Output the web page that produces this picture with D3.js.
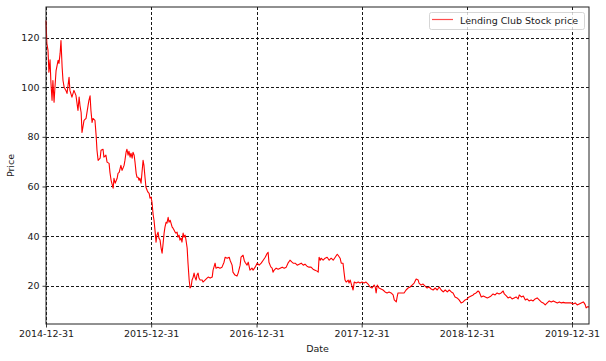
<!DOCTYPE html>
<html><head><meta charset="utf-8">
<script src="https://cdn.jsdelivr.net/npm/d3@7"></script>
<style>
body{margin:0;background:#fff}
svg{display:block}
text{font-family:"DejaVu Sans",sans-serif;fill:#1a1a1a}
</style>
</head><body>
<svg id="chart" width="606" height="361"></svg>
<script>
const seriesName = "Lending Club Stock price";
const dates = [
"2014-12-31","2015-01-03","2015-01-07","2015-01-10","2015-01-14","2015-01-17","2015-01-21","2015-01-24","2015-01-28","2015-01-31",
"2015-02-04","2015-02-11","2015-02-14","2015-02-18","2015-02-21","2015-02-25","2015-02-28","2015-03-04","2015-03-10","2015-03-14",
"2015-03-21","2015-03-24","2015-03-31","2015-04-07","2015-04-14","2015-04-21","2015-04-25","2015-04-28","2015-05-02","2015-05-05",
"2015-05-12","2015-05-19","2015-05-26","2015-05-29","2015-06-02","2015-06-05","2015-06-09","2015-06-12","2015-06-19","2015-06-23",
"2015-06-26","2015-06-30","2015-07-07","2015-07-10","2015-07-17","2015-07-20","2015-07-27","2015-07-31","2015-08-07","2015-08-10",
"2015-08-14","2015-08-21","2015-08-24","2015-08-28","2015-09-04","2015-09-07","2015-09-11","2015-09-17","2015-09-21","2015-09-24",
"2015-09-28","2015-10-01","2015-10-05","2015-10-08","2015-10-12","2015-10-15","2015-10-19","2015-10-22","2015-10-26","2015-10-29",
"2015-11-02","2015-11-05","2015-11-09","2015-11-12","2015-11-16","2015-11-19","2015-11-22","2015-11-26","2015-11-29","2015-12-03",
"2015-12-06","2015-12-10","2015-12-13","2015-12-17","2015-12-20","2015-12-24","2015-12-27","2015-12-31",
"2016-01-03","2016-01-07","2016-01-10","2016-01-14","2016-01-17","2016-01-20","2016-01-24","2016-01-27","2016-01-31","2016-02-03",
"2016-02-07","2016-02-10","2016-02-14","2016-02-17","2016-02-21","2016-02-24","2016-02-28","2016-03-02","2016-03-06","2016-03-09",
"2016-03-13","2016-03-16","2016-03-20","2016-03-23","2016-03-26","2016-03-30","2016-04-02","2016-04-06","2016-04-09","2016-04-13",
"2016-04-16","2016-04-20","2016-04-23","2016-04-27","2016-04-30","2016-05-04","2016-05-07","2016-05-11","2016-05-14","2016-05-18",
"2016-05-21","2016-05-25","2016-05-28","2016-05-31","2016-06-04","2016-06-07","2016-06-11","2016-06-14","2016-06-18","2016-06-25",
"2016-06-28","2016-07-05","2016-07-12","2016-07-16","2016-07-23","2016-07-30","2016-08-02","2016-08-09","2016-08-12","2016-08-19",
"2016-08-26","2016-09-02","2016-09-09","2016-09-13","2016-09-20","2016-09-27","2016-09-30","2016-10-07","2016-10-10","2016-10-17",
"2016-10-24","2016-10-28","2016-11-04","2016-11-07","2016-11-14","2016-11-18","2016-11-21","2016-11-28","2016-12-02","2016-12-08",
"2016-12-15","2016-12-19","2016-12-26",
"2017-01-02","2017-01-09","2017-01-16","2017-01-23","2017-01-30","2017-02-06","2017-02-09","2017-02-12","2017-02-16","2017-02-19",
"2017-02-23","2017-02-26","2017-03-02","2017-03-09","2017-03-16","2017-03-23","2017-03-30","2017-04-06","2017-04-13","2017-04-19",
"2017-04-26","2017-05-03","2017-05-07","2017-05-14","2017-05-21","2017-05-28","2017-06-04","2017-06-11","2017-06-17","2017-06-24",
"2017-07-01","2017-07-08","2017-07-15","2017-07-22","2017-07-29","2017-08-02","2017-08-05","2017-08-09","2017-08-12","2017-08-19",
"2017-08-26","2017-09-02","2017-09-09","2017-09-16","2017-09-23","2017-09-30","2017-10-07","2017-10-10","2017-10-17","2017-10-21",
"2017-10-27","2017-10-31","2017-11-03","2017-11-07","2017-11-14","2017-11-17","2017-11-21","2017-11-24","2017-12-01","2017-12-05",
"2017-12-12","2017-12-19","2017-12-25",
"2018-01-01","2018-01-08","2018-01-15","2018-01-22","2018-01-29","2018-02-05","2018-02-12","2018-02-16","2018-02-19","2018-02-23",
"2018-03-01","2018-03-08","2018-03-15","2018-03-22","2018-03-29","2018-04-05","2018-04-12","2018-04-19","2018-04-23","2018-04-30",
"2018-05-03","2018-05-06","2018-05-13","2018-05-20","2018-05-27","2018-06-03","2018-06-10","2018-06-17","2018-06-24","2018-07-01",
"2018-07-08","2018-07-15","2018-07-18","2018-07-25","2018-08-01","2018-08-08","2018-08-15","2018-08-22","2018-08-29","2018-09-05",
"2018-09-12","2018-09-19","2018-09-26","2018-10-03","2018-10-10","2018-10-17","2018-10-24","2018-10-31","2018-11-07","2018-11-13",
"2018-11-20","2018-11-27","2018-12-04","2018-12-11","2018-12-18","2018-12-25",
"2019-01-01","2019-01-08","2019-01-15","2019-01-22","2019-01-25","2019-02-01","2019-02-08","2019-02-12","2019-02-19","2019-02-26",
"2019-03-05","2019-03-12","2019-03-19","2019-03-25","2019-04-01","2019-04-08","2019-04-15","2019-04-22","2019-04-29","2019-05-06",
"2019-05-10","2019-05-17","2019-05-23","2019-05-30","2019-06-06","2019-06-13","2019-06-20","2019-06-27","2019-07-01","2019-07-08",
"2019-07-15","2019-07-22","2019-07-28","2019-08-04","2019-08-11","2019-08-18","2019-08-25","2019-09-01","2019-09-08","2019-09-15",
"2019-09-22","2019-09-29","2019-10-06","2019-10-13","2019-10-20","2019-10-27","2019-11-03","2019-11-10","2019-11-17","2019-11-24",
"2019-12-01","2019-12-07","2019-12-14","2019-12-21","2019-12-28",
"2020-01-04","2020-01-11","2020-01-18","2020-01-25","2020-02-01","2020-02-08","2020-02-11","2020-02-15","2020-02-18","2020-02-22",
"2020-02-28"
];
const prices = [
126.9,117.6,114.8,106.0,111.0,102.0,94.7,102.7,93.9,99.9,
106.7,110.8,109.6,113.6,118.8,108.0,102.7,100.0,98.7,97.5,
104.0,98.7,96.0,98.7,96.7,90.6,96.0,92.6,89.8,81.8,
86.6,87.4,92.6,94.7,96.5,90.6,85.8,87.4,86.6,80.6,
74.6,70.5,71.4,74.6,75.0,71.8,72.6,69.8,69.3,65.7,
62.5,59.3,63.3,61.3,63.3,65.3,65.7,68.5,66.5,67.3,
68.5,70.5,73.8,75.0,72.6,74.2,71.8,73.4,71.4,73.8,
72.6,69.8,65.3,63.7,63.7,62.5,63.3,61.3,65.3,70.5,
68.5,63.3,59.7,58.5,57.7,57.2,55.3,55.7,
53.5,48.5,46.4,41.6,37.6,40.4,41.6,39.2,38.4,35.6,
33.1,36.4,41.2,43.6,45.6,45.2,47.6,45.6,46.4,45.2,
43.6,43.2,42.4,41.6,41.2,41.6,39.6,40.4,38.4,39.2,
37.6,41.2,39.6,40.4,38.4,35.2,29.1,22.3,19.1,19.8,
22.3,23.5,25.1,23.5,22.3,24.3,25.1,23.1,22.3,22.3,
21.5,22.3,23.1,23.5,23.1,23.5,26.3,29.1,27.1,27.5,
27.1,27.5,29.5,31.5,31.1,31.5,30.3,28.3,25.5,24.3,
23.9,25.1,28.3,31.5,32.3,30.3,29.5,28.3,29.5,26.3,
27.1,26.3,27.5,
29.1,28.3,29.1,30.3,31.5,33.1,33.5,29.5,28.3,27.5,
27.1,25.5,26.3,27.1,26.7,27.1,27.5,27.1,27.5,29.1,
30.3,29.5,29.1,29.1,28.3,28.7,29.1,28.3,28.7,27.9,
27.5,27.5,26.7,26.3,25.9,25.5,31.5,30.3,31.1,30.3,
31.1,31.5,30.3,31.1,30.3,31.5,32.7,32.3,31.1,29.1,
29.1,25.1,22.3,21.5,22.3,21.1,22.3,21.1,18.3,21.5,
21.1,21.5,21.1,
21.5,21.1,21.5,20.7,19.5,19.1,20.3,19.5,17.1,20.3,
19.1,18.7,18.3,17.5,17.1,17.5,17.1,16.3,14.3,13.5,
15.5,17.1,17.1,17.1,17.1,18.3,19.1,19.5,20.3,21.1,
22.7,22.3,21.1,20.3,20.7,19.9,19.1,19.5,18.7,18.3,
19.1,18.3,19.5,18.3,17.5,18.3,17.5,18.3,17.5,17.1,
15.5,15.1,14.3,13.1,13.5,14.3,
14.7,15.5,15.9,16.3,16.7,17.1,17.9,17.5,15.5,15.9,
15.5,15.1,15.5,15.9,16.7,16.3,17.1,16.7,17.1,17.9,
16.7,15.9,15.1,15.5,14.7,15.1,15.5,14.7,16.3,15.5,
15.9,14.3,14.7,13.9,14.3,13.9,14.7,15.1,14.3,13.5,
13.1,12.3,13.1,13.9,13.5,13.9,13.5,13.1,13.5,13.1,
13.3,13.1,13.1,13.1,13.1,
12.7,13.1,12.3,12.7,13.1,13.5,13.1,12.3,11.1,11.5,
11.5
];
const xTickLabels = ["2014-12-31","2015-12-31","2016-12-31","2017-12-31","2018-12-31","2019-12-31"];
const yTickValues = [20,40,60,80,100,120];
const yLimits = [4.6,132.3];

const W = 606, H = 361;
const m = {left:46, right:17, top:7, bottom:37};
const parse = d3.timeParse("%Y-%m-%d");
const data = dates.map((d,i)=>({date:parse(d), price:prices[i]}));

const svg = d3.select("#chart");
const x = d3.scaleTime().domain(d3.extent(data, d=>d.date)).range([m.left, W-m.right]);
const y = d3.scaleLinear().domain(yLimits).range([H-m.bottom, m.top]);

const xTicks = xTickLabels.map(parse);

// grid
const grid = svg.append("g");
grid.selectAll("line.gx").data(xTicks).join("line")
  .attr("x1", d=>Math.round(x(d))+0.5).attr("x2", d=>Math.round(x(d))+0.5)
  .attr("y1", m.top).attr("y2", H-m.bottom)
  .attr("stroke","#000").attr("stroke-width",0.9).attr("stroke-dasharray","3,2");
grid.selectAll("line.gy").data(yTickValues).join("line")
  .attr("y1", d=>Math.round(y(d))+0.5).attr("y2", d=>Math.round(y(d))+0.5)
  .attr("x1", m.left).attr("x2", W-m.right)
  .attr("stroke","#000").attr("stroke-width",0.9).attr("stroke-dasharray","3,2");

// line
svg.append("path").datum(data)
  .attr("fill","none").attr("stroke","#ff0000").attr("stroke-width",1.1)
  .attr("stroke-linejoin","round")
  .attr("d", d3.line().x(d=>x(d.date)).y(d=>y(d.price)));

// axes
const xAxis = d3.axisBottom(x).tickValues(xTicks).tickFormat(d3.timeFormat("%Y-%m-%d")).tickSize(3.5).tickSizeOuter(0).tickPadding(3);
const yAxis = d3.axisLeft(y).tickValues(yTickValues).tickSize(3.5).tickSizeOuter(0).tickPadding(3);
const gx = svg.append("g").attr("transform",`translate(0,${H-m.bottom})`).call(xAxis);
const gy = svg.append("g").attr("transform",`translate(${m.left},0)`).call(yAxis);
[gx,gy].forEach(g=>{
  g.select(".domain").remove();
  g.selectAll(".tick line").attr("stroke","#222").attr("stroke-width",0.9);
  g.selectAll(".tick text").attr("font-size","9.5px").attr("fill","#1a1a1a").attr("font-family","DejaVu Sans");
});

// frame
svg.append("rect").attr("x",m.left).attr("y",m.top)
  .attr("width",W-m.left-m.right).attr("height",H-m.top-m.bottom)
  .attr("fill","none").attr("stroke","#222").attr("stroke-width",1);

// axis labels
svg.append("text").attr("x",(m.left+W-m.right)/2).attr("y",352)
  .attr("text-anchor","middle").attr("font-size","9.5px").text("Date");
svg.append("text").attr("transform",`translate(14,${(m.top+H-m.bottom)/2}) rotate(-90)`)
  .attr("text-anchor","middle").attr("font-size","9.5px").text("Price");

// legend
const lg = svg.append("g");
lg.append("rect").attr("x",429.5).attr("y",12.5).attr("width",155).attr("height",17).attr("rx",2)
  .attr("fill","#fff").attr("fill-opacity",0.8).attr("stroke","#cccccc").attr("stroke-width",0.8);
lg.append("path").attr("d","M432,19.5H453")
  .style("stroke","#ff4d4d").style("stroke-width","1.2px").style("fill","none");
lg.append("text").attr("x",460).attr("y",23.5).attr("font-size","9.5px").text(seriesName);
</script>
</body></html>
